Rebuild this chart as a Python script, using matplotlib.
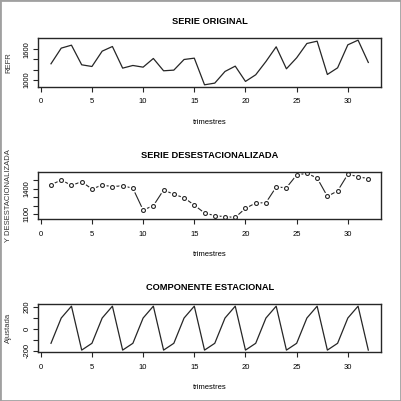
import matplotlib
matplotlib.use("Agg")
import matplotlib.pyplot as plt
import matplotlib.patches as patches

plt.rcParams['font.family'] = ['Liberation Sans', 'DejaVu Sans']

# trimestres 1..32
trimestres = list(range(1, 33))

# serie original (REFR)
refr = [1314, 1620, 1678, 1294, 1261, 1561, 1652, 1229, 1281, 1248,
        1418, 1177, 1190, 1398, 1424, 903, 936, 1164, 1268, 969,
        1099, 1359, 1646, 1216, 1431, 1711, 1756, 1105, 1235, 1685,
        1776, 1340]

# serie desestacionalizada
desest = [1447, 1503, 1440, 1483, 1396, 1444, 1424, 1436, 1405, 1147,
          1198, 1385, 1334, 1293, 1205, 1112, 1080, 1068, 1060, 1167,
          1230, 1234, 1420, 1412, 1563, 1583, 1527, 1310, 1373, 1571,
          1543, 1519]

# componente estacional
estacional = [-130, 100, 208, -192, -130, 100, 208, -192,
              -130, 100, 208, -192, -130, 100, 208, -192,
              -130, 100, 208, -192, -130, 100, 208, -192,
              -130, 100, 208, -192, -130, 100, 208, -192]

xticks = [0, 5, 10, 15, 20, 25, 30]

W = 401.0
line_col = "#262626"
fs = 5.5

fig = plt.figure(figsize=(4.01, 4.01), dpi=100)
fig.patch.set_facecolor("white")

def make_axes(top_px, bottom_px):
    left = 38.3 / W
    width = (381.0 - 38.3) / W
    return fig.add_axes([left, 1 - bottom_px / W, width, (bottom_px - top_px) / W])

def style(ax, title, ylabel, yticks, ylabels, ylim):
    ax.set_xlim(-0.24, 33.24)
    ax.set_ylim(*ylim)
    ax.set_xticks(xticks)
    ax.set_xticklabels([str(t) for t in xticks])
    ax.set_yticks(yticks)
    ax.set_yticklabels(ylabels)
    ax.tick_params(direction="out", length=3.6, width=0.8, color=line_col,
                   labelsize=fs, top=False, right=False)
    ax.tick_params(axis="x", pad=4.5)
    ax.tick_params(axis="y", pad=1.8)
    plt.setp(ax.get_yticklabels(), rotation=90, va="center")
    for s in ax.spines.values():
        s.set_linewidth(1.0)
        s.set_color(line_col)
    ax.set_title(title, fontsize=6.7, fontweight="bold", pad=10)
    ax.set_xlabel("trimestres", fontsize=fs, labelpad=10)
    ax.set_ylabel(ylabel, fontsize=fs, color="#333333")
    ax.yaxis.label.set_va("center")
    ax.yaxis.set_label_coords(-0.086, 0.5)

# serie original
ax1 = make_axes(37.5, 87.0)
ax1.plot(trimestres, refr, color=line_col, lw=0.9)
style(ax1, "SERIE ORIGINAL", "REFR", [1000, 1200, 1400, 1600],
      ["1000", "", "", "1600"], (860, 1828))

# serie desestacionalizada (tipo "b")
ax2 = make_axes(171.7, 219.3)
ax2.plot(trimestres, desest, color=line_col, lw=0.8)
ax2.plot(trimestres, desest, linestyle="none", marker="o", markersize=5.0,
         markerfacecolor="white", markeredgecolor="white")
ax2.plot(trimestres, desest, linestyle="none", marker="o", markersize=2.8,
         markerfacecolor="white", markeredgecolor=line_col, markeredgewidth=0.8)
style(ax2, "SERIE DESESTACIONALIZADA", "Y DESESTACIONALIZADA",
      [1100, 1200, 1300, 1400, 1500], ["1100", "", "", "1400", ""], (1037, 1602))

# componente estacional
ax3 = make_axes(304.3, 352.3)
ax3.plot(trimestres, estacional, color=line_col, lw=0.9)
style(ax3, "COMPONENTE ESTACIONAL", "Ajustada", [-200, -100, 0, 100, 200],
      ["-200", "", "0", "", "200"], (-212, 225))

# marco gris exterior
fig.patches.append(patches.Rectangle((0, 0), 1, 1, transform=fig.transFigure,
                                     fill=False, edgecolor="#a0a0a0", linewidth=2.0))

plt.savefig("out.png", dpi=100)
